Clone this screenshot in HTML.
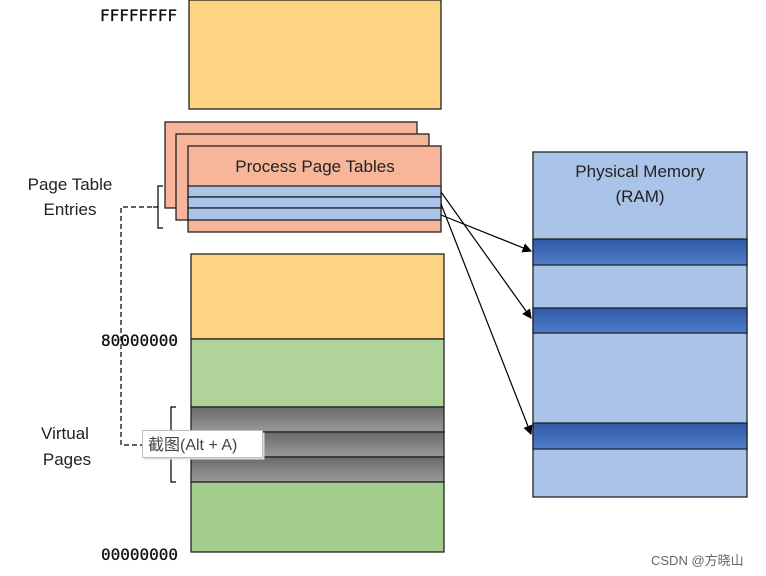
<!DOCTYPE html><html><head><style>body{margin:0;background:#fff}svg{display:block}</style></head><body>
<svg width="766" height="576" viewBox="0 0 766 576" xmlns="http://www.w3.org/2000/svg" font-family="Liberation Sans, sans-serif">
<defs><marker id="a" markerWidth="8" markerHeight="8" refX="7" refY="4" orient="auto"><path d="M0,0L8,4L0,8z" fill="#000"/></marker>
<linearGradient id="g" x1="0" y1="0" x2="0" y2="1"><stop offset="0" stop-color="#6a6a6a"/><stop offset="1" stop-color="#9a9a9a"/></linearGradient>
<linearGradient id="b" x1="0" y1="0" x2="0" y2="1"><stop offset="0" stop-color="#2f5aa8"/><stop offset="1" stop-color="#4f7cc8"/></linearGradient></defs>
<g stroke="#222" stroke-width="1.3">
<rect x="189" y="0" width="252" height="109" fill="#fdd482"/>
<rect x="165" y="122" width="252" height="86" fill="#f7b59a"/>
<rect x="176" y="134" width="253" height="86" fill="#f7b59a"/>
<rect x="188" y="146" width="253" height="86" fill="#f7b59a"/>
<rect x="188" y="186" width="253" height="11" fill="#a9c4e8"/>
<rect x="188" y="197" width="253" height="11" fill="#a9c4e8"/>
<rect x="188" y="208" width="253" height="12" fill="#a9c4e8"/>
<rect x="191" y="254" width="253" height="85" fill="#fdd482"/>
<rect x="191" y="339" width="253" height="68" fill="#b0d39b"/>
<rect x="191" y="407" width="253" height="25" fill="url(#g)"/>
<rect x="191" y="432" width="253" height="25" fill="url(#g)"/>
<rect x="191" y="457" width="253" height="25" fill="url(#g)"/>
<rect x="191" y="482" width="253" height="70" fill="#a4cc8c"/>
<rect x="533" y="152" width="214" height="345" fill="#a9c4e8"/>
<rect x="533" y="239" width="214" height="26" fill="url(#b)"/>
<rect x="533" y="308" width="214" height="25" fill="url(#b)"/>
<rect x="533" y="423" width="214" height="26" fill="url(#b)"/>
</g>
<g stroke="#000" stroke-width="1.2" fill="none">
<line x1="441" y1="192" x2="531" y2="318" marker-end="url(#a)"/>
<line x1="441" y1="204" x2="531" y2="434" marker-end="url(#a)"/>
<line x1="441" y1="215" x2="531" y2="251" marker-end="url(#a)"/>
<path d="M163,186h-5v21h-5h5v21h5"/>
<path d="M176,407h-5v75h5"/>
<path d="M152,207H121V445h27" stroke-dasharray="5,3"/>
</g>
<text x="315" y="172" font-size="17" text-anchor="middle" fill="#222">Process Page Tables</text>
<text x="640" y="177" font-size="17" text-anchor="middle" fill="#222">Physical Memory</text>
<text x="640" y="202" font-size="17" text-anchor="middle" fill="#222">(RAM)</text>
<g font-family="DejaVu Sans Mono, Liberation Mono, monospace" font-size="16" fill="#111" text-anchor="end" stroke="#111" stroke-width="0.3">
<text x="177" y="21">FFFFFFFF</text><text x="178" y="346">80000000</text><text x="178" y="560">00000000</text></g>
<g font-size="17" fill="#222" text-anchor="middle">
<text x="70" y="190">Page Table</text><text x="70" y="215">Entries</text>
<text x="65" y="439">Virtual</text><text x="67" y="465">Pages</text></g>
<rect x="144.5" y="432.5" width="120" height="27" fill="#ddd" stroke="none"/>
<rect x="142.5" y="430.5" width="120" height="27" fill="#fff" stroke="#bbb"/>
<text x="148" y="450" font-size="16" fill="#444" font-family="Liberation Sans, Noto Sans CJK SC, sans-serif">截图(Alt + A)</text>
<text x="651" y="565" font-size="13" fill="#666" font-family="Liberation Sans, Noto Sans CJK SC, sans-serif">CSDN @方晓山</text>
</svg></body></html>
